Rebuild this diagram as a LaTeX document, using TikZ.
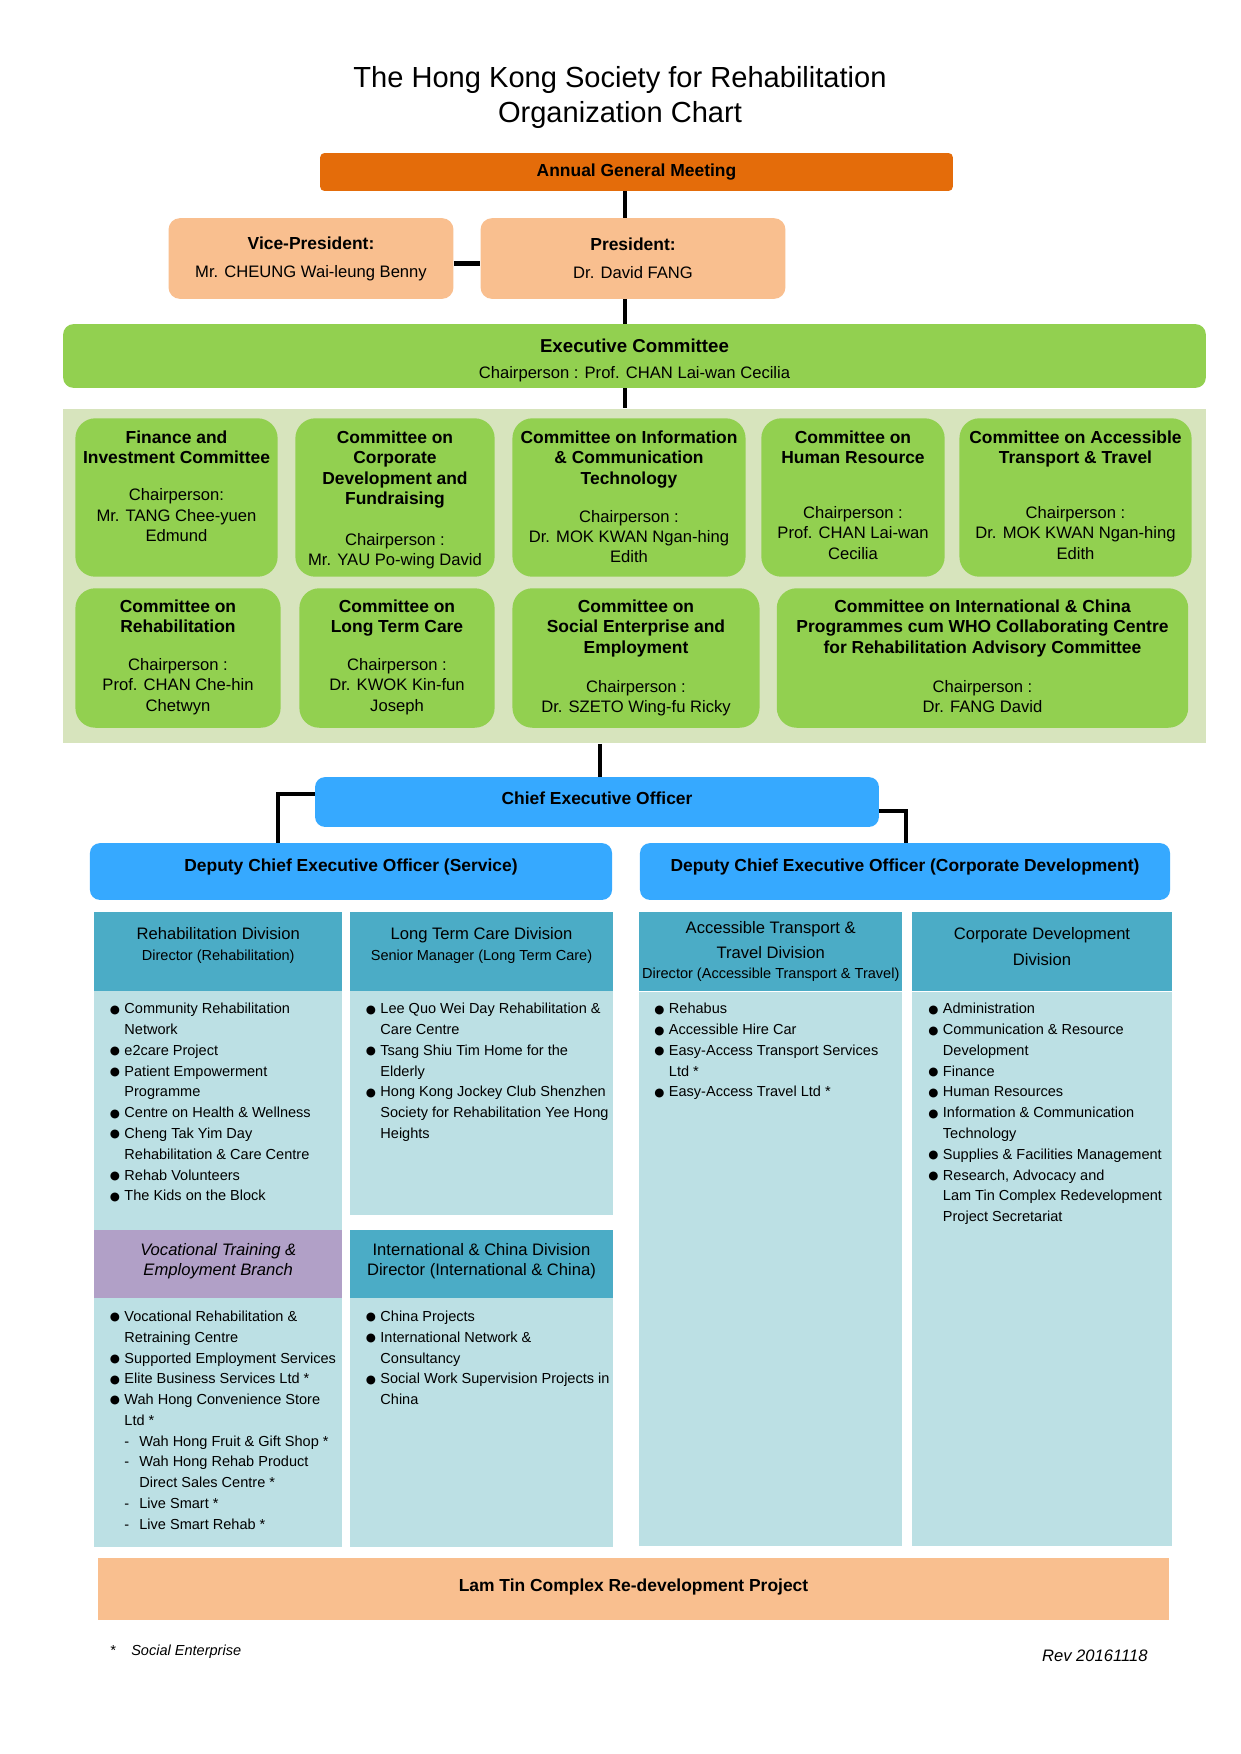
\documentclass[tikz,border=0pt]{standalone}
\usepackage{fontspec}
\setmainfont{Liberation Sans}
\newfontfamily\dotfont{DejaVu Sans}
\usetikzlibrary{positioning}

\definecolor{agmorange}{HTML}{E46C0A}
\definecolor{peach}{HTML}{F9BF8F}
\definecolor{leaf}{HTML}{92D050}
\definecolor{sage}{HTML}{D7E4BD}
\definecolor{sky}{HTML}{36A9FF}
\definecolor{divhead}{HTML}{4BACC6}
\definecolor{divbody}{HTML}{BCE0E4}
\definecolor{vochead}{HTML}{B1A0C7}

\newcommand{\hd}[1]{{\fontsize{8.4}{9.8}\selectfont\bfseries #1}}
\newcommand{\bul}{\makebox[7pt][l]{\raisebox{0.3pt}{\dotfont\fontsize{5.6}{7}\selectfont ●}}}
\newcommand{\ind}{\hspace*{7pt}}
\newcommand{\dsh}{\hspace*{7pt}\makebox[7.2pt][l]{-}}
\newcommand{\dind}{\hspace*{14.2pt}}

\begin{document}
\begin{tikzpicture}[x=0.16933mm, y=-0.16933mm,
  every node/.style={inner sep=0pt},
  wh/.style 2 args={minimum width=#1*0.48pt, minimum height=#2*0.48pt},
  officer/.style={fill=peach, rounded corners=5.5pt, align=center, font=\fontsize{8}{10}\selectfont},
  cmte/.style={fill=leaf, rounded corners=9.6pt},
  ctext/.style={align=center, font=\fontsize{8}{9.8}\selectfont},
  bluebox/.style={fill=sky, rounded corners=4.8pt, font=\fontsize{8.4}{10}\selectfont\bfseries},
  divh/.style={fill=divhead},
  divb/.style={fill=divbody},
  dtext/.style={align=center, font=\fontsize{8}{10.4}\selectfont},
  items/.style={anchor=north west, align=left, font=\fontsize{7}{10}\selectfont},
  link/.style={line width=1.7pt}
]
\fill[white] (0,0) rectangle (1240,1754);

% title and board
\node[anchor=north, align=center, font=\fontsize{14}{16.8}\selectfont] (title) at (620,66)
  {The Hong Kong Society for Rehabilitation\\Organization Chart};
\node[fill=agmorange, rounded corners=2pt, wh={635}{38}, font=\fontsize{8.4}{10}\selectfont\bfseries] (agm) at (636.5,172) {Annual General Meeting};
\node[officer, wh={286}{81}] (vp) at (311,258.5) {\hd{Vice-President:}\\[3.4pt]Mr. CHEUNG Wai-leung Benny};
\node[officer, wh={306}{81}] (pres) at (633,258.5) {\hd{President:}\\[3.4pt]Dr. David FANG};
\node[fill=leaf, rounded corners=5pt, wh={1147}{64}, align=center, font=\fontsize{8}{10}\selectfont, text height=23.6pt] (exec) at (634.5,356)
  {{\fontsize{9}{10}\selectfont\bfseries Executive Committee}\\[2.6pt]Chairperson : Prof. CHAN Lai-wan Cecilia};

% committees
\node[fill=sage, wh={1147}{336}] (cback) at (634.5,576) {};
\node[cmte, wh={203}{159}] (fin) at (176.5,497.5) {};
\node[cmte, wh={200}{159}] (corp) at (395,497.5) {};
\node[cmte, wh={234}{159}] (ict) at (629,497.5) {};
\node[cmte, wh={184}{159}] (hr) at (853,497.5) {};
\node[cmte, wh={233}{159}] (acc) at (1075.5,497.5) {};
\node[cmte, wh={206}{140}] (rehabc) at (178,658) {};
\node[cmte, wh={196}{140}] (ltcc) at (397,658) {};
\node[cmte, wh={248}{140}] (soc) at (636,658) {};
\node[cmte, wh={413}{140}] (intlc) at (982.5,658) {};

\node[ctext, below=6.1pt of fin.north] (fint) {\hd{Finance and}\\\hd{Investment Committee}\\[8pt]Chairperson:\\Mr. TANG Chee-yuen\\Edmund};
\node[ctext, below=6.1pt of corp.north] (corpt) {\hd{Committee on}\\\hd{Corporate}\\\hd{Development and}\\\hd{Fundraising}\\[9.8pt]Chairperson :\\Mr. YAU Po-wing David};
\node[ctext, below=6.1pt of ict.north] (ictt) {\hd{Committee on Information}\\\hd{\& Communication}\\\hd{Technology}\\[8.5pt]Chairperson :\\Dr. MOK KWAN Ngan-hing\\Edith};
\node[ctext, below=6.1pt of hr.north] (hrt) {\hd{Committee on}\\\hd{Human Resource}\\[16.4pt]Chairperson :\\Prof. CHAN Lai-wan\\Cecilia};
\node[ctext, below=6.1pt of acc.north] (acct) {\hd{Committee on Accessible}\\\hd{Transport \& Travel}\\[16.4pt]Chairperson :\\Dr. MOK KWAN Ngan-hing\\Edith};
\node[ctext, below=5.6pt of rehabc.north] (rehabct) {\hd{Committee on}\\\hd{Rehabilitation}\\[8.3pt]Chairperson :\\Prof. CHAN Che-hin\\Chetwyn};
\node[ctext, below=5.6pt of ltcc.north] (ltcct) {\hd{Committee on}\\\hd{Long Term Care}\\[8.3pt]Chairperson :\\Dr. KWOK Kin-fun\\Joseph};
\node[ctext, below=5.6pt of soc.north] (soct) {\hd{Committee on}\\\hd{Social Enterprise and}\\\hd{Employment}\\[9pt]Chairperson :\\Dr. SZETO Wing-fu Ricky};
\node[ctext, below=5.6pt of intlc.north] (intlct) {\hd{Committee on International \& China}\\\hd{Programmes cum WHO Collaborating Centre}\\\hd{for Rehabilitation Advisory Committee}\\[9pt]Chairperson :\\Dr. FANG David};

% management
\node[bluebox, wh={566}{50}, text depth=3.5pt] (ceo) at (597,802) {Chief Executive Officer};
\node[bluebox, wh={524}{57}, text depth=6.3pt] (dceoS) at (351,871.5) {Deputy Chief Executive Officer (Service)};
\node[bluebox, wh={532}{57}, text depth=6.3pt] (dceoC) at (905,871.5) {Deputy Chief Executive Officer (Corporate Development)};

% divisions
\node[divh, wh={248.5}{79}] (rehabH) at (218.25,951.5) {};
\node[divh, wh={263}{79}] (ltcH) at (481.5,951.5) {};
\node[divh, wh={263.5}{79}] (atH) at (770.75,951.5) {};
\node[divh, wh={260}{79}] (cdH) at (1042,951.5) {};
\node[divb, wh={248.5}{239}] (rehabB) at (218.25,1110.5) {};
\node[divb, wh={263}{224}] (ltcB) at (481.5,1103) {};
\node[divb, wh={263.5}{556}] (atB) at (770.75,1269) {};
\node[divb, wh={260}{556}] (cdB) at (1042,1269) {};
\node[fill=vochead, wh={248.5}{68}] (vocH) at (218.25,1264) {};
\node[divb, wh={248.5}{249}] (vocB) at (218.25,1422.5) {};
\node[divh, wh={263}{68}] (intlH) at (481.5,1264) {};
\node[divb, wh={263}{249}] (intlB) at (481.5,1422.5) {};

\node[dtext, below=7.2pt of rehabH.north] (rehabHt) {Rehabilitation Division\\{\fontsize{7}{10}\selectfont Director (Rehabilitation)}};
\node[dtext, below=7.2pt of ltcH.north] (ltcHt) {Long Term Care Division\\{\fontsize{7}{10}\selectfont Senior Manager (Long Term Care)}};
\node[dtext, below=4.3pt of atH.north, font=\fontsize{8}{12}\selectfont] (atHt) {Accessible Transport \&\\Travel Division\\[-2.3pt]{\fontsize{7}{10}\selectfont Director (Accessible Transport \& Travel)}};
\node[dtext, below=7.2pt of cdH.north, font=\fontsize{8}{12.5}\selectfont] (cdHt) {Corporate Development\\Division};
\node[dtext, below=6.2pt of vocH.north, font=\fontsize{8}{10}\selectfont\itshape] (vocHt) {Vocational Training \&\\Employment Branch};
\node[dtext, below=6.2pt of intlH.north, font=\fontsize{8}{10}\selectfont] (intlHt) {International \& China Division\\Director (International \& China)};

\node[items] (rehabL) at (109.5,1003) {\bul Community Rehabilitation\\\ind Network\\\bul e2care Project\\\bul Patient Empowerment\\\ind Programme\\\bul Centre on Health \& Wellness\\\bul Cheng Tak Yim Day\\\ind Rehabilitation \& Care Centre\\\bul Rehab Volunteers\\\bul The Kids on the Block};
\node[items] (ltcL) at (365.5,1003) {\bul Lee Quo Wei Day Rehabilitation \&\\\ind Care Centre\\\bul Tsang Shiu Tim Home for the\\\ind Elderly\\\bul Hong Kong Jockey Club Shenzhen\\\ind Society for Rehabilitation Yee Hong\\\ind Heights};
\node[items] (atL) at (654,1003) {\bul Rehabus\\\bul Accessible Hire Car\\\bul Easy-Access Transport Services\\\ind Ltd *\\\bul Easy-Access Travel Ltd *};
\node[items] (cdL) at (928,1003) {\bul Administration\\\bul Communication \& Resource\\\ind Development\\\bul Finance\\\bul Human Resources\\\bul Information \& Communication\\\ind Technology\\\bul Supplies \& Facilities Management\\\bul Research, Advocacy and\\\ind Lam Tin Complex Redevelopment\\\ind Project Secretariat};
\node[items] (vocL) at (109.5,1310.6) {\bul Vocational Rehabilitation \&\\\ind Retraining Centre\\\bul Supported Employment Services\\\bul Elite Business Services Ltd *\\\bul Wah Hong Convenience Store\\\ind Ltd *\\\dsh Wah Hong Fruit \& Gift Shop *\\\dsh Wah Hong Rehab Product\\\dind Direct Sales Centre *\\\dsh Live Smart *\\\dsh Live Smart Rehab *};
\node[items] (intlL) at (365.5,1310.6) {\bul China Projects\\\bul International Network \&\\\ind Consultancy\\\bul Social Work Supervision Projects in\\\ind China};

\node[fill=peach, wh={1075}{62}, font=\fontsize{8.4}{10}\selectfont\bfseries, text depth=3.9pt] (lamtin) at (633.5,1589) {Lam Tin Complex Re-development Project};

\node[anchor=west, font=\fontsize{7}{10}\selectfont\itshape] (note) at (109.5,1651.5) {\makebox[10.3pt][l]{*}Social Enterprise};
\node[anchor=east, font=\fontsize{8}{10}\selectfont\itshape] (rev) at (1148,1656) {Rev 20161118};

% connectors
\coordinate (spine) at (625,0);
\coordinate (spine2) at (600,0);
\coordinate (lknee) at (278,794);
\coordinate (rknee) at (906,811);
\draw[link] (agm.south -| spine) -- (pres.north -| spine);
\draw[link, line width=2.3pt] ([yshift=-2.4pt]vp.east) -- ([yshift=-2.4pt]pres.west);
\draw[link] (pres.south -| spine) -- (exec.north -| spine);
\draw[link] (exec.south -| spine) -- (cback.north -| spine);
\draw[link] (cback.south -| spine2) -- (ceo.north -| spine2);
\draw[link] (ceo.west |- lknee) -| (dceoS.north -| lknee);
\draw[link] (ceo.east |- rknee) -| (dceoC.north -| rknee);
\end{tikzpicture}
\end{document}
